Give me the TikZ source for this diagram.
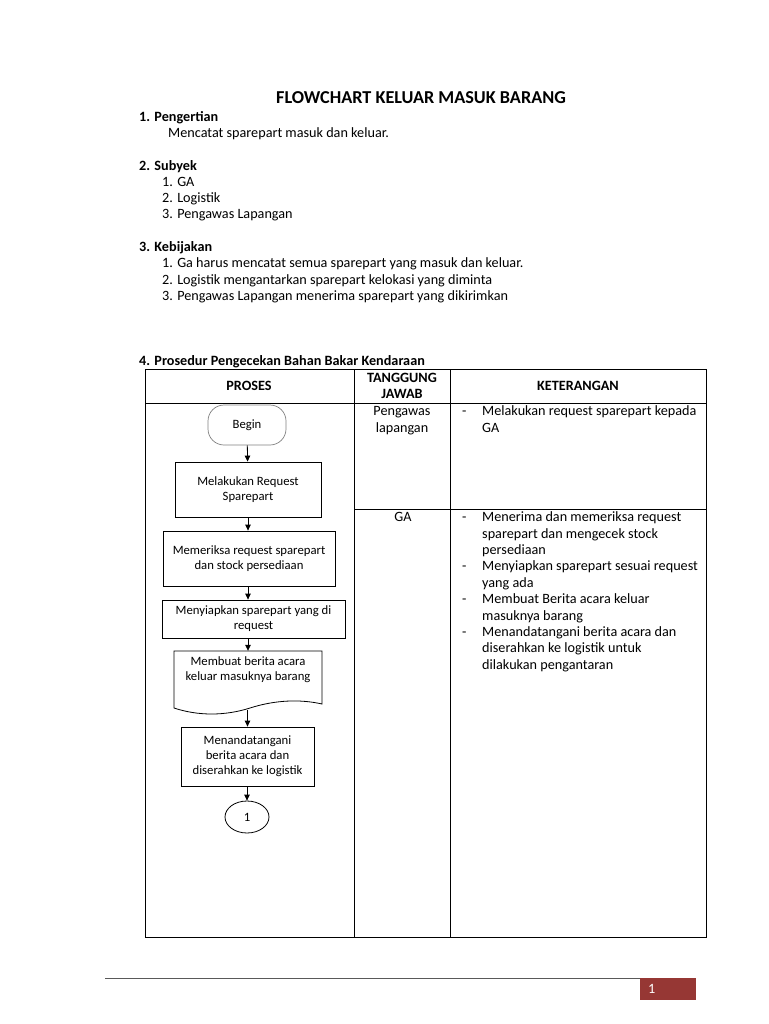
\documentclass[tikz,border=0pt]{standalone}
\usepackage{fontspec}
\setmainfont{Carlito}
\usetikzlibrary{arrows.meta,shapes.geometric}
\definecolor{pagered}{RGB}{150,55,52}
\begin{document}
\begin{tikzpicture}[x=1pt,y=-1pt,
  txt/.style={inner sep=0pt,anchor=base west,font=\fontsize{14.2}{16}\selectfont},
  btxt/.style={txt,font=\fontsize{14.2}{16}\selectfont\bfseries},
  hdr/.style={inner sep=0pt,align=center,font=\fontsize{14.2}{16}\selectfont\bfseries},
  fbox/.style={draw,line width=0.8pt,align=center,inner sep=2pt,font=\fontsize{12.7}{15}\selectfont},
  arr/.style={line width=0.8pt,-{Triangle[length=6pt,width=5.5pt]}},
  tline/.style={line width=0.9pt}]
\useasboundingbox (0,0) rectangle (768,1024);
\fill[white] (0,0) rectangle (768,1024);
% title and header text
\node[inner sep=0pt,anchor=base,font=\fontsize{18.2}{20}\selectfont\bfseries] (title) at (421,104) {FLOWCHART KELUAR MASUK BARANG};
\node[btxt] (h1) at (139,121.5) {1. Pengertian};
\node[txt] (p1) at (168,137.5) {Mencatat sparepart masuk dan keluar.};
\node[btxt] (h2) at (139,170.5) {2. Subyek};
\node[txt] (s1) at (162,186.5) {1. GA};
\node[txt] (s2) at (162,202.5) {2. Logistik};
\node[txt] (s3) at (162,218.5) {3. Pengawas Lapangan};
\node[btxt] (h3) at (139,251.5) {3. Kebijakan};
\node[txt] (k1) at (162,267.5) {1. Ga harus mencatat semua sparepart yang masuk dan keluar.};
\node[txt] (k2) at (162,284) {2. Logistik mengantarkan sparepart kelokasi yang diminta};
\node[txt] (k3) at (162,300.5) {3. Pengawas Lapangan menerima sparepart yang dikirimkan};
\node[btxt] (h4) at (139,365.5) {4. Prosedur Pengecekan Bahan Bakar Kendaraan};
% table
\draw[tline] (145,369) rectangle (706,937);
\draw[tline] (354,369) -- (354,937);
\draw[tline] (450,369) -- (450,937);
\draw[tline] (145,403) -- (706,403);
\draw[tline] (354,509) -- (706,509);
\node[hdr] (c1) at (249,386) {PROSES};
\node[hdr] (c2) at (402,385.5) {TANGGUNG\\JAWAB};
\node[hdr] (c3) at (578,386) {KETERANGAN};
% column 2
\node[txt,anchor=base] (r1a) at (402,415.5) {Pengawas};
\node[txt,anchor=base] (r1b) at (402,432) {lapangan};
\node[txt,anchor=base] (r2a) at (403,521.5) {GA};
% column 3
\foreach \y/\t in {415.5/Melakukan request sparepart kepada, 432/GA,
  521.5/Menerima dan memeriksa request, 538/sparepart dan mengecek stock, 554.4/persediaan,
  570.8/Menyiapkan sparepart sesuai request, 587.2/yang ada,
  603.6/Membuat Berita acara keluar, 620/masuknya barang,
  636.4/Menandatangani berita acara dan, 652.8/diserahkan ke logistik untuk, 669.2/dilakukan pengantaran}
  \node[txt] at (482,\y) {\t};
\foreach \y in {415.5,521.5,570.8,603.6,636.4}
  \node[txt] at (462,\y) {-};
% flowchart
\node[draw=gray,line width=0.7pt,rounded corners=16pt,minimum width=78pt,minimum height=40pt,font=\fontsize{12.7}{15}\selectfont] (begin) at (247,425) {Begin};
\node[fbox,minimum width=146pt,minimum height=55pt] (b1) at (248,489.5) {Melakukan Request\\Sparepart};
\node[fbox,minimum width=172pt,minimum height=55pt] (b2) at (249,558.5) {Memeriksa request sparepart\\dan stock persediaan};
\node[fbox,minimum width=183pt,minimum height=38pt] (b3) at (253.5,619) {Menyiapkan sparepart yang di\\request};
% document shape
\draw[line width=0.8pt] (174,651) -- (322,651) -- (322,704)
  .. controls (300,699) and (275,700) .. (250,708)
  .. controls (225,716) and (198,716) .. (174,708) -- cycle;
\node[inner sep=0pt,align=center,font=\fontsize{12.7}{15}\selectfont,minimum width=148pt,minimum height=38pt] (doc) at (248,670) {Membuat berita acara\\keluar masuknya barang};
\coordinate (docb) at (248,710);
\node[fbox,minimum width=133pt,minimum height=59pt] (b5) at (247.5,756.5) {Menandatangani\\berita acara dan\\diserahkan ke logistik};
\node[draw,ellipse,line width=0.8pt,minimum width=44pt,minimum height=32pt,inner sep=0pt,font=\fontsize{12.7}{15}\selectfont] (end) at (247,817) {1};
\draw[arr] (begin) -- (b1);
\draw[arr] (b1.south) -- (b1.south |- b2.north);
\draw[arr] (b2.south -| b1.south) -- (b1.south |- b3.north);
\draw[arr] (b3.south -| b1.south) -- (b1.south |- doc.north);
\draw[arr] (docb -| b5.north) -- (b5.north);
\draw[arr] (b5.south -| end.north) -- (end.north);
% footer
\draw[gray!70!black,line width=0.8pt] (105,978) coordinate (fl) -- (640,978) coordinate (fr);
\node[fill=pagered,minimum width=56pt,minimum height=22pt,anchor=north west,inner sep=0pt] (pg) at (fr) {};
\node[txt,anchor=west,text=white] (pgn) at ([xshift=8pt]pg.west) {1};
\end{tikzpicture}
\end{document}
